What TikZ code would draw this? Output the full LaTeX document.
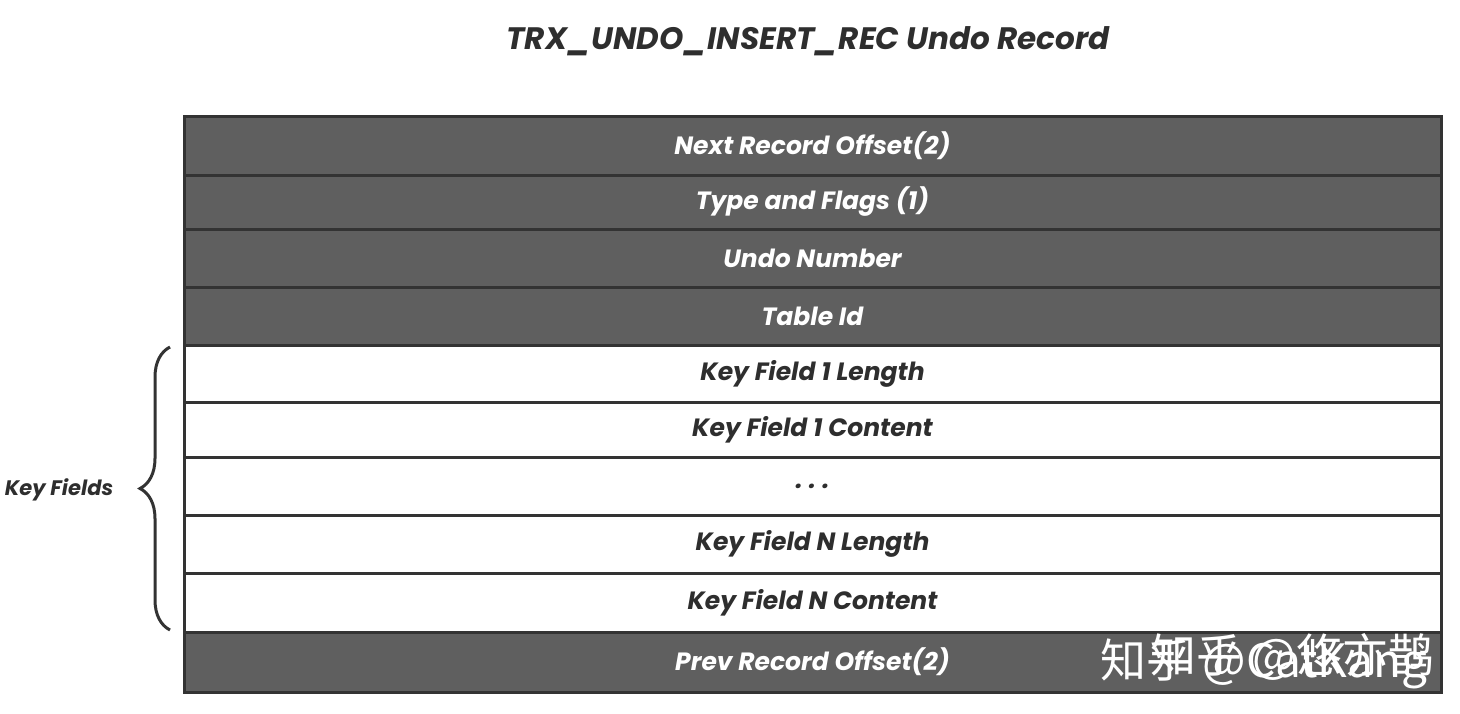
\documentclass[tikz,border=0pt]{standalone}
\usepackage{fontspec}
\setmainfont{Poppins}
\newfontfamily\cjkfont{Noto Sans CJK SC}
\usetikzlibrary{decorations.pathreplacing}
\definecolor{rowdark}{HTML}{5F5F5F}
\definecolor{edge}{HTML}{333333}
\definecolor{ink}{HTML}{2E2E2E}
\tikzset{
  rowbase/.style={draw=edge, line width=3pt, minimum width=1257pt, inner sep=0pt,
    font=\fontsize{25}{30}\selectfont\bfseries\itshape},
  darkrow/.style={rowbase, fill=rowdark, text=white},
  lightrow/.style={rowbase, fill=white, text=ink},
  titlestyle/.style={text=ink, font=\fontsize{31}{36}\selectfont\bfseries\itshape},
  sidelabel/.style={text=ink, font=\fontsize{21}{25}\selectfont\bfseries\itshape},
  bracestyle/.style={draw=edge, line width=3pt, decorate,
    decoration={brace, amplitude=30pt, aspect=0.5}},
  wmark/.style={text=white, font=\fontsize{46}{50}\selectfont\cjkfont, inner sep=0pt, anchor=west}
}
\begin{document}
\begin{tikzpicture}[x=1pt, y=-1pt]
\useasboundingbox (0,0) rectangle (1460,713);
\node[titlestyle] (title) at (808,41) {TRX\_UNDO\_INSERT\_REC Undo Record};
% rows: edges 116,175,229,287,345,402,457,515,573,632,692
\node[darkrow, minimum height=59pt] (r1) at (812.5,145.5) {Next Record Offset(2)};
\node[darkrow, minimum height=54pt] (r2) at (812.5,202) {Type and Flags (1)};
\node[darkrow, minimum height=58pt] (r3) at (812.5,258) {Undo Number};
\node[darkrow, minimum height=58pt] (r4) at (812.5,316) {Table Id};
\node[lightrow, minimum height=57pt] (r5) at (812.5,373.5) {Key Field 1 Length};
\node[lightrow, minimum height=55pt] (r6) at (812.5,429.5) {Key Field 1 Content};
\node[lightrow, minimum height=58pt] (r7) at (812.5,486) {.\hspace{0.25em}.\hspace{0.25em}.};
\node[lightrow, minimum height=58pt] (r8) at (812.5,544) {Key Field N Length};
\node[lightrow, minimum height=59pt] (r9) at (812.5,602.5) {Key Field N Content};
\node[darkrow, minimum height=60pt] (r10) at (812.5,662) {Prev Record Offset(2)};
% brace
\coordinate (bt) at (170,347);
\coordinate (bb) at (170,630);
\draw[bracestyle] (bb) -- (bt);
\node[sidelabel] (kf) at (59,490) {Key Fields};
% watermark
\node[wmark] (w1) at (1100,664) {知乎 @CatKang};
\node[wmark] (w2) at (1150,657) {知乎 @悠亦鹊};
\end{tikzpicture}
\end{document}
